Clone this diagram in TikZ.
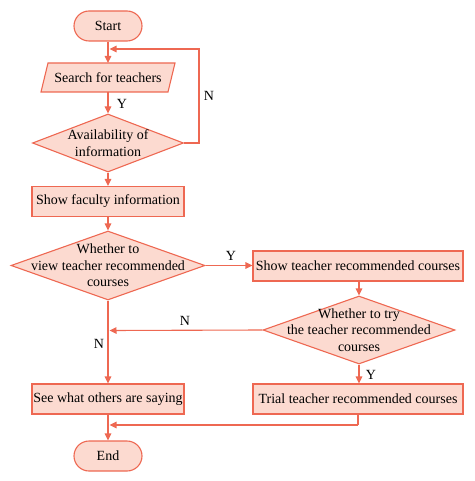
\documentclass[tikz,border=0pt]{standalone}
\usepackage{fontspec}
\setmainfont{Liberation Serif}
\usetikzlibrary{shapes.geometric,arrows.meta}
\definecolor{edge}{RGB}{238,104,82}
\definecolor{boxfill}{RGB}{252,218,208}
\begin{document}
\begin{tikzpicture}[x=1pt,y=-1pt,
  every node/.style={font=\fontsize{14}{16.5}\selectfont, text=black},
  term/.style={draw=edge, fill=boxfill, line width=1.1pt, rounded corners=15pt, minimum width=68pt, minimum height=30pt, inner sep=0pt},
  procbox/.style={draw=edge, fill=boxfill, line width=1.1pt, minimum height=30pt, inner sep=0pt},
  dia/.style={draw=edge, fill=boxfill, line width=1.1pt, diamond, inner sep=0pt},
  txt/.style={align=center, inner sep=0pt},
  arr/.style={draw=edge, line width=1.1pt, -{Triangle[length=7pt,width=6.5pt]}},
  ln/.style={draw=edge, line width=1.1pt},
  lab/.style={inner sep=0pt}
]
\useasboundingbox (0,0) rectangle (474,481);

% Start
\node[term] (start) at (108,26) {Start};

% Search (parallelogram)
\fill[boxfill] (48,63) -- (175,63) -- (168,92) -- (41,92) -- cycle;
\draw[edge, line width=1.1pt] (48,63) -- (175,63) -- (168,92) -- (41,92) -- cycle;
\node[txt, minimum height=29pt] (search) at (108,77.5) {Search for teachers};

% Diamond 1
\node[dia, minimum width=151pt, minimum height=58pt] (d1) at (108,143) {};
\node[txt] (d1t) at (108,143) {Availability of\\information};

% Faculty
\node[procbox, minimum width=152pt] (fac) at (108,201.5) {Show faculty information};

% Diamond 2
\node[dia, minimum width=194pt, minimum height=69pt] (d2) at (108,265.5) {};
\node[txt] (d2t) at (108,265.5) {Whether to\\view teacher recommended\\courses};

% Show teacher recommended courses
\node[procbox, minimum width=210pt] (trs) at (358,266) {Show teacher recommended courses};

% Diamond 3
\node[dia, minimum width=192pt, minimum height=68pt] (d3) at (359,330) {};
\node[txt] (d3t) at (359,330) {Whether to try\\the teacher recommended\\courses};

% See what others
\node[procbox, minimum width=152pt] (see) at (108,399) {See what others are saying};

% Trial
\node[procbox, minimum width=210pt] (trial) at (358,399) {Trial teacher recommended courses};

% End
\node[term] (end) at (108,456) {End};

% coordinates
\coordinate (loopin) at (109.5,49);
\coordinate (loopR) at (199,143);
\coordinate (nin) at (109.5,330.5);
\coordinate (trdown) at (358,425);
\coordinate (endin) at (109.5,425);

% connectors
\draw[arr] (start.south) -- (108,63);
\draw[arr] (108,92) -- (d1.north);
\draw[arr] (d1.east) -- (loopR) |- (loopin);
\draw[arr] (d1.south) -- (fac.north);
\draw[arr] (fac.south) -- (d2.north);
\draw[arr] (d2.east) -- (trs.west |- d2.east);
\draw[arr] (trs.south -| d3.north) -- (d3.north);
\draw[arr] (d3.south) -- (d3.south |- trial.north);
\draw[arr] (d3.west) -- (nin);
\draw[arr] (d2.south) -- (see.north);
\draw[arr] (see.south) -- (end.north);
\draw[ln] (trial.south) -- (trdown);
\draw[arr] (trdown) -- (endin);

% labels
\node[lab] (ly1) at (122,104) {Y};
\node[lab] (ln1) at (209,96) {N};
\node[lab] (ly2) at (231,256) {Y};
\node[lab] (ln2) at (185,321) {N};
\node[lab] (ln3) at (99,344) {N};
\node[lab] (ly3) at (371,375) {Y};
\end{tikzpicture}
\end{document}
